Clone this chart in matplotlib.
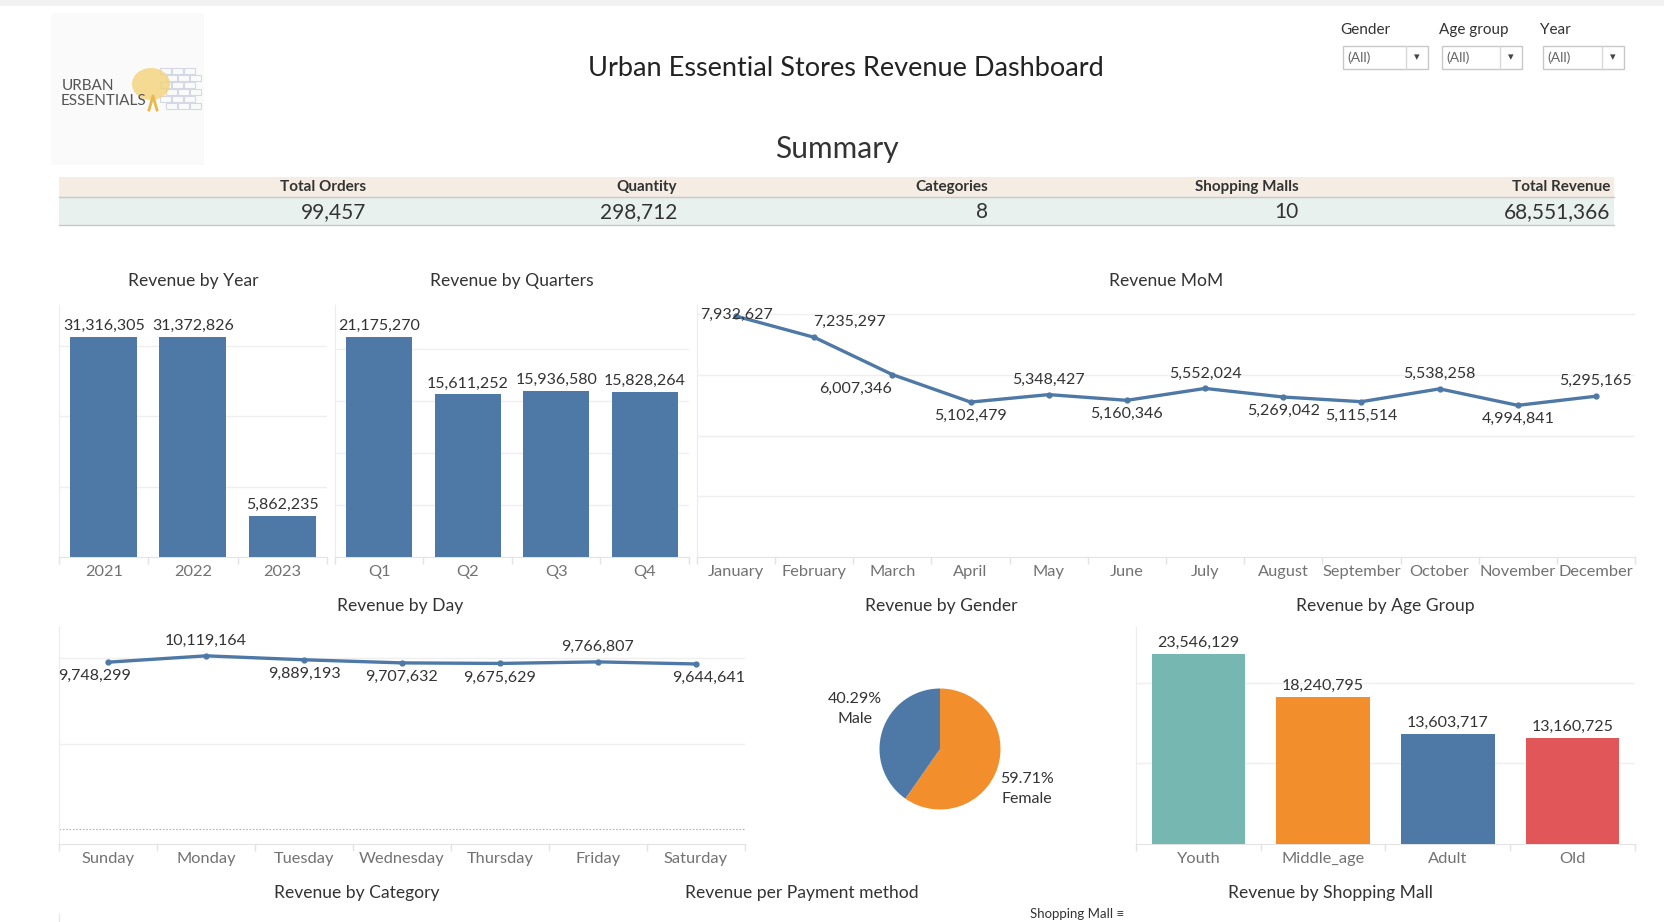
import numpy as np
import matplotlib
matplotlib.use("Agg")
from matplotlib import pyplot as plt
from matplotlib.patches import Rectangle, Ellipse

plt.rcParams['font.family'] = ['Lato', 'DejaVu Sans']

# ---- data ----
summary_labels = ["Total Orders", "Quantity", "Categories", "Shopping Malls", "Total Revenue"]
summary_values = [99457, 298712, 8, 10, 68551366]

years = ["2021", "2022", "2023"]
year_revenue = [31316305, 31372826, 5862235]

quarters = ["Q1", "Q2", "Q3", "Q4"]
quarter_revenue = [21175270, 15611252, 15936580, 15828264]

months = ["January", "February", "March", "April", "May", "June", "July",
          "August", "September", "October", "November", "December"]
month_revenue = [7932627, 7235297, 6007346, 5102479, 5348427, 5160346, 5552024,
                 5269042, 5115514, 5538258, 4994841, 5295165]
month_label_pos = ["mid", "up", "down", "down", "up", "down", "up",
                   "down", "down", "up", "down", "up"]
month_label_dx = [0, 35, -37, 0, 0, 0, 0, 0, 0, 0, 0, 0]

days = ["Sunday", "Monday", "Tuesday", "Wednesday", "Thursday", "Friday", "Saturday"]
day_revenue = [9748299, 10119164, 9889193, 9707632, 9675629, 9766807, 9644641]
day_label_pos = ["down", "up", "down", "down", "down", "up", "down"]
day_label_dx = [-13, 0, 0, 0, 0, 0, 13]

genders = ["Male", "Female"]
gender_share = [40.29, 59.71]

age_groups = ["Youth", "Middle_age", "Adult", "Old"]
age_revenue = [23546129, 18240795, 13603717, 13160725]

filters = ["Gender", "Age group", "Year"]

BLUE = "#4e79a7"
ORANGE = "#f28e2b"
TEAL = "#76b7b2"
RED = "#e15759"
GRID = "#efefef"
TXT = "#333333"
TICK = "#727272"

W, H = 1665, 922
fig = plt.figure(figsize=(W / 100, H / 100), dpi=100)
fig.patch.set_facecolor("white")


def px_axes(x0, y0, x1, y1, z=1):
    return fig.add_axes([x0 / W, 1 - y1 / H, (x1 - x0) / W, (y1 - y0) / H], zorder=z)


# background canvas in pixel coordinates
bg = px_axes(0, 0, W, H, z=0)
bg.set_xlim(0, W)
bg.set_ylim(H, 0)
bg.axis("off")

bg.add_patch(Rectangle((0, 0), W, 6, color="#f2f2f2", lw=0))

# logo
bg.add_patch(Rectangle((51, 13), 153, 152, color="#fafafa", lw=0))
for r in range(6):
    for c in range(3):
        off = 6 if r % 2 else 0
        bg.add_patch(Rectangle((160 + c * 12 + off, 68 + r * 7), 11, 6, fill=False,
                               ec="#d3d8e2", lw=0.8))
bg.add_patch(Ellipse((151, 84), 38, 32, color="#f3d27a", alpha=0.8, lw=0))
bg.plot([149, 153, 157], [110, 96, 110], color="#e8b84a", lw=2)
bg.text(62, 86, "URBAN", fontsize=11, color="#555555", va="center", ha="left")
bg.text(61, 101, "ESSENTIALS", fontsize=11, color="#555555", va="center", ha="left")

# header
bg.text(846, 68, "Urban Essential Stores Revenue Dashboard", fontsize=19.5, color="#222222",
        ha="center", va="center")

# filters
filter_x = [1343, 1442, 1543]
filter_w = [85, 80, 81]
for name, fx, fw in zip(filters, filter_x, filter_w):
    bg.text(fx - 3, 30, name, fontsize=11, color=TXT, ha="left", va="center")
    bg.add_patch(Rectangle((fx, 46), fw, 23, fill=False, ec="#c8c8c8", lw=1))
    bg.plot([fx + fw - 22, fx + fw - 22], [46, 69], color="#d8d8d8", lw=1)
    bg.text(fx + 4, 58, "(All)", fontsize=10, color="#666666", ha="left", va="center")
    bg.text(fx + fw - 11, 57, "\u25be", fontsize=8, color="#444444", ha="center", va="center")

# summary table
bg.text(837, 149, "Summary", fontsize=21.5, color=TXT, ha="center", va="center")
tx0, tx1 = 59, 1614
bg.add_patch(Rectangle((tx0, 177), tx1 - tx0, 20, color="#f5ede3", lw=0))
bg.add_patch(Rectangle((tx0, 197), tx1 - tx0, 28, color="#e9f1ef", lw=0))
bg.plot([tx0, tx1], [197, 197], color="#c8c8c8", lw=1)
bg.plot([tx0, tx1], [225, 225], color="#c8c8c8", lw=1)
col_w = (tx1 - tx0) / len(summary_labels)
for i, (lab, val) in enumerate(zip(summary_labels, summary_values)):
    xr = tx0 + col_w * (i + 1) - 4
    bg.text(xr, 187, lab, fontsize=11, fontweight="bold", color=TXT, ha="right", va="center")
    bg.text(xr, 212, f"{val:,}", fontsize=15, color=TXT, ha="right", va="center")

# section titles
titles = [("Revenue by Year", 193, 281), ("Revenue by Quarters", 512, 281),
          ("Revenue MoM", 1166, 281), ("Revenue by Day", 400, 606),
          ("Revenue by Gender", 941, 606), ("Revenue by Age Group", 1385, 606),
          ("Revenue by Category", 357, 893), ("Revenue per Payment method", 802, 893),
          ("Revenue by Shopping Mall", 1330, 893)]
for t, x, y in titles:
    bg.text(x, y, t, fontsize=12.6, color=TXT, ha="center", va="center")
bg.text(1030, 914, "Shopping Mall \u2261", fontsize=9.5, color=TXT, ha="left", va="center")
bg.plot([59, 59], [914, 922], color="#e6e6e6", lw=1)


def style_axes(ax, n, ymax, step, ylow=0):
    ax.set_xlim(-0.5, n - 0.5)
    ax.set_ylim(ylow, ymax)
    ax.set_yticks(np.arange(step, ymax, step))
    ax.yaxis.grid(True, color=GRID, lw=1)
    ax.set_axisbelow(True)
    ax.tick_params(axis="y", length=0, labelleft=False)
    ax.set_xticks(np.arange(n + 1) - 0.5, minor=True)
    ax.tick_params(axis="x", which="major", length=0, colors=TICK, labelsize=11.8, pad=6)
    ax.tick_params(axis="x", which="minor", length=5, color="#e3e3e3", width=1)
    for s in ["top", "right"]:
        ax.spines[s].set_visible(False)
    ax.spines["left"].set_color("#ececec")
    ax.spines["bottom"].set_color("#e3e3e3")
    ax.patch.set_alpha(0)


def bar_panel(box, cats, vals, colors, step):
    ax = px_axes(*box)
    x = np.arange(len(cats))
    ax.bar(x, vals, width=0.75, color=colors, zorder=3)
    style_axes(ax, len(cats), max(vals) * 1.143, step)
    ax.set_xticks(x, cats)
    for xi, v in zip(x, vals):
        ax.annotate(f"{v:,}", (xi, v), xytext=(0, 4), textcoords="offset pixels",
                    ha="center", va="bottom", fontsize=11.5, color=TXT)
    return ax


bar_panel((59, 305, 327, 557), years, year_revenue, BLUE, 10e6)
bar_panel((335, 305, 689, 557), quarters, quarter_revenue, BLUE, 5e6)
bar_panel((1136, 627, 1635, 844), age_groups, age_revenue, [TEAL, ORANGE, BLUE, RED], 10e6)


def line_panel(box, cats, vals, pos, dxs, ymax, step, ylow=0):
    ax = px_axes(*box)
    x = np.arange(len(cats))
    ax.plot(x, vals, color=BLUE, lw=2.4, marker="o", ms=3.5, zorder=3)
    style_axes(ax, len(cats), ymax, step, ylow)
    ax.set_xticks(x, cats)
    for xi, v, p, dx in zip(x, vals, pos, dxs):
        dy = {"up": 15, "down": -14, "mid": 1}[p]
        ax.annotate(f"{v:,}", (xi, v), xytext=(dx, dy), textcoords="offset pixels",
                    ha="center", va="center", fontsize=11.5, color=TXT)
    return ax


line_panel((697, 305, 1635, 557), months, month_revenue, month_label_pos, month_label_dx,
           8.3e6, 2e6)
ax_day = line_panel((59, 627, 745, 844), days, day_revenue, day_label_pos, day_label_dx,
                    11.8e6, 5e6, ylow=-0.85e6)
ax_day.axhline(0, color="#b5b5b5", lw=0.8, ls=(0, (1.5, 1.5)))

# gender pie
axp = px_axes(879.5, 688.5, 1000.5, 809.5)
axp.pie(gender_share[::-1], colors=[ORANGE, BLUE], startangle=90, counterclock=False,
        radius=1)
axp.set_xlim(-1, 1)
axp.set_ylim(-1, 1)
bg.text(855, 709, f"{gender_share[0]:.2f}%\n{genders[0]}", fontsize=11.5, color=TXT,
        ha="center", va="center", linespacing=1.5)
bg.text(1027, 789, f"{gender_share[1]:.2f}%\n{genders[1]}", fontsize=11.5, color=TXT,
        ha="center", va="center", linespacing=1.5)

fig.savefig("out.png", dpi=100)
